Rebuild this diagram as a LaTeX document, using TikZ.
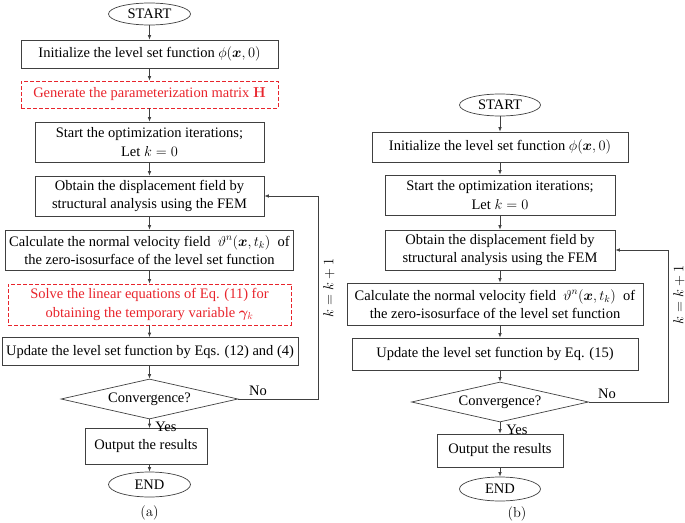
\documentclass[tikz,border=0pt]{standalone}
\usepackage{amsmath}
\usepackage{bm}
\usepackage[no-math]{fontspec}
\setmainfont{Liberation Serif}
\usetikzlibrary{shapes.geometric, arrows.meta}
\definecolor{stepred}{RGB}{232,36,44}

\begin{document}
\begin{tikzpicture}[x=1pt, y=-1pt,
	every node/.style={font=\fontsize{14.5}{18.5}\selectfont},
	box/.style={draw=black!75, line width=0.7pt, rectangle, align=center, inner sep=0pt},
	newbox/.style={box, draw=stepred, dash pattern=on 4pt off 2pt, text=stepred},
	term/.style={draw=black!75, line width=0.7pt, ellipse, inner sep=0pt},
	test/.style={draw=black!75, line width=0.7pt, diamond, aspect=4.4, inner sep=0pt, minimum width=177pt, minimum height=40pt},
	flow/.style={draw=black!75, line width=0.7pt, -{Latex[length=4.5pt,width=3.5pt]}}]
				  \useasboundingbox (0,0) rectangle (685,522);
				  % (a) with the parameterization matrix
				  \node[term, minimum width=82pt, minimum height=22pt] (startA) at (149.5,14) {START};
				  \node[box, minimum width=257pt, minimum height=28pt] (initA) at (149.5,54) {Initialize the level set function~$\phi(\bm{x},0)$};
				  \node[newbox, minimum width=257pt, minimum height=27pt] (paramA) at (149.5,94.5) {Generate the parameterization matrix~$\mathbf{H}$};
				  \node[box, minimum width=229pt, minimum height=40pt] (iterA) at (149.5,142) {Start the optimization iterations;\\Let $k=0$};
				  \node[box, minimum width=229pt, minimum height=40pt] (femA) at (149.5,196) {Obtain the displacement field by\\structural analysis using the FEM};
				  \node[box, minimum width=288pt, minimum height=40pt] (veloA) at (149.5,250) {Calculate the normal velocity field~~$\vartheta^{n}(\bm{x},t_k)$~~of\\the zero-isosurface of the level set function};
				  \node[newbox, minimum width=283pt, minimum height=41pt] (solveA) at (149.5,304.5) {Solve the linear equations of Eq. (11) for\\obtaining the temporary variable~$\bm{\gamma}_k$};
				  \node[box, minimum width=296pt, minimum height=28pt] (updA) at (150,351.5) {Update the level set function by Eqs. (12) and (4)};
				  \node[test] (convA) at (149.5,399) {Convergence?};
				  \node[box, minimum width=122pt, minimum height=36pt] (outA) at (146,446.5) {Output the results};
				  \node[term, minimum width=82pt, minimum height=25pt] (endA) at (149.5,484.5) {END};
				  \node (labA) at (149.5,513) {$(\mathrm{a})$};
				  \node (noA) at (258,391) {No};
				  \node (yesA) at (166,427) {Yes};
				  \node[rotate=90] (incA) at (329,288) {$k=k+1$};
				  \coordinate (loopA) at (318,399);
				  \draw[flow] (startA) -- (initA);
				  \draw[flow] (initA) -- (paramA);
				  \draw[flow] (paramA) -- (iterA);
				  \draw[flow] (iterA) -- (femA);
				  \draw[flow] (femA) -- (veloA);
				  \draw[flow] (veloA) -- (solveA);
				  \draw[flow] (solveA) -- (updA.north -| solveA);
				  \draw[flow] (updA.south -| solveA) -- (convA);
				  \draw[flow] (convA) -- (outA.north -| convA);
				  \draw[flow] (outA.south -| convA) -- (endA);
				  \draw[flow] (convA.east) -- (loopA) |- (femA.east);
				  % (b) without it
				  \node[term, minimum width=81pt, minimum height=22pt] (startB) at (500,105) {START};
				  \node[box, minimum width=256pt, minimum height=30pt] (initB) at (500,147) {Initialize the level set function~$\phi(\bm{x},0)$};
				  \node[box, minimum width=230pt, minimum height=40pt] (iterB) at (500,195) {Start the optimization iterations;\\Let $k=0$};
				  \node[box, minimum width=230pt, minimum height=40pt] (femB) at (500,250) {Obtain the displacement field by\\structural analysis using the FEM};
				  \node[box, minimum width=296pt, minimum height=42pt] (veloB) at (495,304) {Calculate the normal velocity field~~$\vartheta^{n}(\bm{x},t_k)$~~of\\the zero-isosurface of the level set function};
				  \node[box, minimum width=286pt, minimum height=32pt] (updB) at (495,354) {Update the level set function by Eq. (15)};
				  \node[test] (convB) at (500,402) {Convergence?};
				  \node[box, minimum width=126pt, minimum height=33pt] (outB) at (500,450.5) {Output the results};
				  \node[term, minimum width=81pt, minimum height=24pt] (endB) at (500,489) {END};
				  \node (labB) at (517,514) {$(\mathrm{b})$};
				  \node (noB) at (607,394) {No};
				  \node (yesB) at (517,430) {Yes};
				  \node[rotate=90] (incB) at (679,295) {$k=k+1$};
				  \coordinate (loopB) at (668,402);
				  \draw[flow] (startB) -- (initB);
				  \draw[flow] (initB) -- (iterB);
				  \draw[flow] (iterB) -- (femB);
				  \draw[flow] (femB) -- (veloB.north -| femB);
				  \draw[flow] (veloB.south -| femB) -- (updB.north -| femB);
				  \draw[flow] (updB.south -| femB) -- (convB);
				  \draw[flow] (convB) -- (outB);
				  \draw[flow] (outB) -- (endB);
				  \draw[flow] (convB.east) -- (loopB) |- (femB.east);
				\end{tikzpicture}
\end{document}
